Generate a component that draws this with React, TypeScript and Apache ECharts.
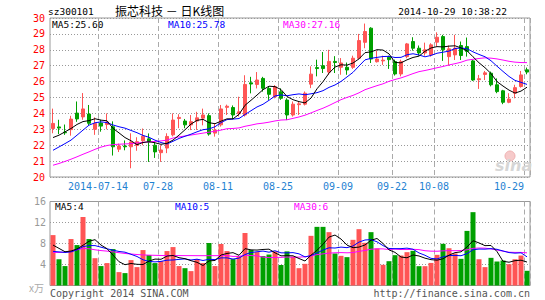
import React, { useEffect, useRef } from "react";
import * as echarts from "echarts";

const dates = ["07-02","07-03","07-04","07-07","07-08","07-09","07-10","07-11","07-14","07-15","07-16","07-17","07-18","07-21","07-22","07-23","07-24","07-25","07-28","07-29","07-30","07-31","08-01","08-04","08-05","08-06","08-07","08-08","08-11","08-12","08-13","08-14","08-15","08-18","08-19","08-20","08-21","08-22","08-25","08-26","08-27","08-28","08-29","09-01","09-02","09-03","09-04","09-05","09-09","09-10","09-11","09-12","09-15","09-16","09-17","09-18","09-19","09-22","09-23","09-24","09-25","09-26","09-29","09-30","10-08","10-09","10-10","10-13","10-14","10-15","10-16","10-17","10-20","10-21","10-22","10-23","10-24","10-27","10-28","10-29"];

const tickDates = ["07-14","07-28","08-11","08-25","09-09","09-22","10-08","10-29"];
const tickLabels = ["2014-07-14","07-28","08-11","08-25","09-09","09-22","10-08","10-29"];

const opens = [23.05,23.15,22.82,22.98,24.02,23.78,23.96,23.0,23.4,23.3,
  23.16,21.75,21.95,21.9,21.98,22.28,22.4,22.0,21.53,21.82,
  22.65,23.68,23.52,23.28,23.52,23.7,23.86,22.76,23.28,24.38,
  24.37,23.98,23.9,25.92,25.82,26.2,25.57,25.05,25.36,24.84,
  23.9,24.55,24.58,25.84,26.88,27.0,26.6,27.27,26.9,26.9,
  26.9,27.47,28.47,29.36,27.25,27.3,27.53,27.26,26.48,27.57,
  28.52,28.1,27.8,27.68,28.48,28.83,27.57,27.68,28.27,28.2,
  27.3,26.12,26.45,26.53,25.8,25.42,24.7,25.27,25.69,26.74];
const closes = [23.37,23.08,22.78,23.64,23.65,24.28,23.38,23.37,23.2,23.45,
  21.9,21.95,21.9,22.2,22.22,22.57,22.2,21.58,21.7,22.55,
  23.58,23.75,23.28,23.48,23.72,23.9,22.7,22.96,24.28,24.45,
  23.9,24.1,25.82,25.85,26.1,25.58,25.2,25.68,24.95,23.9,
  24.58,24.6,25.27,26.47,26.82,26.82,27.27,27.2,27.17,26.73,
  27.47,28.58,29.15,27.42,27.42,27.35,27.38,26.48,27.26,28.37,
  28.1,27.8,28.0,28.31,28.79,28.0,28.06,28.1,27.64,27.9,
  26.1,26.18,26.55,25.8,25.37,24.7,24.9,25.62,26.42,26.6];
const lows = [22.75,22.7,22.65,22.6,23.47,23.6,23.26,22.65,22.85,23.0,
  21.35,21.57,21.68,20.55,21.65,22.0,20.95,21.2,20.95,21.5,
  22.55,23.07,23.07,22.95,22.96,23.25,22.6,22.54,23.17,23.9,
  23.65,23.8,23.8,25.26,25.57,25.37,24.85,24.95,24.85,23.58,
  23.8,23.9,24.5,25.59,26.33,26.54,26.43,26.54,26.43,26.43,
  26.8,27.4,28.1,27.17,27.2,27.05,26.8,26.38,26.33,27.47,
  27.95,27.63,27.63,27.57,28.2,27.3,27.0,27.36,27.36,27.57,
  26.04,25.54,26.1,25.7,25.27,24.58,24.64,24.95,25.62,26.46];
const highs = [24.3,23.6,23.3,23.85,24.75,25.28,24.53,23.75,23.6,24.0,
  23.5,22.1,22.3,22.75,22.5,23.05,22.74,22.2,22.0,22.75,
  24.0,23.95,23.65,23.9,24.1,24.3,24.0,23.37,24.53,24.55,
  24.5,25.05,26.4,26.3,26.6,26.3,25.68,25.78,25.57,24.95,
  24.75,24.75,25.38,26.96,27.38,27.86,28.0,27.6,27.48,27.2,
  27.63,29.0,29.65,29.42,27.95,27.63,27.63,27.38,27.38,28.43,
  28.79,28.27,28.45,28.41,29.1,28.94,28.27,28.94,28.52,28.77,
  27.36,26.42,26.67,26.63,26.2,25.48,25.27,25.8,26.67,26.88];
const volumes = [9.6,5.0,3.7,8.85,7.7,13.05,8.85,5.2,3.7,4.27,
  6.94,2.55,2.36,4.84,3.5,6.75,5.8,4.27,4.65,6.56,
  7.32,3.7,3.3,2.74,5.03,4.27,8.1,3.7,7.9,6.56,
  5.03,5.6,10.0,6.75,6.37,5.6,5.9,6.5,3.9,6.5,
  5.5,3.3,4.13,9.46,11.17,11.17,10.16,6.1,5.65,5.4,
  8.7,10.73,8.13,10.16,7.05,3.94,4.63,5.78,5.71,6.35,
  6.6,3.68,3.68,4.3,5.84,7.94,7.1,6.1,5.08,10.4,
  13.97,5.0,3.5,5.27,4.57,4.76,4.06,5.0,5.71,2.8];

// moving-average values before a full window exists
const ma5Head = [22.48,22.63,22.84,23.05];
const ma10Head = [21.68,21.89,22.1,22.32,22.63,22.95,23.26,23.41,23.47];
const ma30Head = [20.74,20.85,20.98,21.12,21.27,21.43,21.58,21.74,21.88,21.98,
  22.04,22.06,22.08,22.1,22.14,22.18,22.21,22.24,22.27,22.32,
  22.45,22.52,22.58,22.64,22.7,22.76,22.82,22.88,22.95];
const volMa5Head = [7.7,7.07,6.43,6.56];
const volMa10Head = [6.5,6.4,6.3,6.4,6.8,7.4,7.6,7.6,7.3];
const volMa30Head = [6.3,6.3,6.35,6.5,6.8,7.05,7.0,6.8,6.65,6.55,
  6.4,6.25,6.1,6.0,5.9,5.82,5.78,5.75,5.72,5.7,
  5.7,5.7,5.69,5.69,5.68,5.68,5.68,5.68,5.69];

const priceMaLabels = ["MA5:25.60","MA10:25.78","MA30:27.16"];
const volMaLabels = ["MA5:4","MA10:5","MA30:6"];

const RED = "#ff5555";
const GREEN = "#00a000";
const MONO = '"DejaVu Sans Mono", "Liberation Mono", monospace';

function movingAvg(vals: number[], n: number, head: number[]) {
  return vals.map((_, i) => {
    if (i < n - 1) return head[i];
    let s = 0;
    for (let k = i - n + 1; k <= i; k++) s += vals[k];
    return +(s / n).toFixed(3);
  });
}

export default function App() {
  const ref = useRef<HTMLDivElement>(null);
  useEffect(() => {
    if (!ref.current) return;
    const chart = echarts.init(ref.current, null, { renderer: "svg" });
    const candles = dates.map((_, i) => [opens[i], closes[i], lows[i], highs[i]]);
    const vols = volumes.map((v, i) => ({
      value: v,
      itemStyle: { color: closes[i] >= opens[i] ? RED : GREEN },
    }));
    const isTick = (idx: number) => tickDates.indexOf(dates[idx]) >= 0;
    const lastIdx = dates.length - 1;
    const splitLine = {
      show: true,
      interval: (idx: number) => isTick(idx),
      lineStyle: { color: "#aaaaaa", type: [5, 3], width: 1 },
    };
    const txt = (text: string, x: number, y: number, fill: string, extra: any = {}) => ({
      type: "text",
      x,
      y,
      silent: true,
      z: 100,
      style: { text, fill, font: `10px ${MONO}`, verticalAlign: "middle", textAlign: "left", ...extra },
    });
    const option: any = {
      animation: false,
      backgroundColor: "#ffffff",
      grid: [
        { left: 50, top: 18, width: 480, height: 159, show: true, borderColor: "#999999", borderWidth: 1, outerBoundsMode: "none" },
        { left: 50, top: 201.5, width: 480, height: 84, show: true, borderColor: "#999999", borderWidth: 1, outerBoundsMode: "none" },
      ],
      xAxis: [
        {
          type: "category",
          gridIndex: 0,
          data: dates,
          boundaryGap: true,
          axisLine: { show: false },
          axisTick: { show: false },
          splitLine,
          axisLabel: {
            show: true,
            margin: 4,
            interval: (idx: number) => isTick(idx),
            hideOverlap: false,
            formatter: (v: string, idx: number) => {
              const lab = tickLabels[tickDates.indexOf(v)] || v;
              return idx === lastIdx ? `{r|${lab}}` : `{n|${lab}}`;
            },
            rich: {
              n: { padding: [0, 6, 0, 0], color: "#1f82d2", fontSize: 10, fontFamily: MONO },
              r: { padding: [0, 36, 0, 0], color: "#1f82d2", fontSize: 10, fontFamily: MONO },
            },
          },
        },
        {
          type: "category",
          gridIndex: 1,
          data: dates,
          boundaryGap: true,
          axisLine: { show: false },
          axisTick: { show: false },
          axisLabel: { show: false },
          splitLine,
        },
      ],
      yAxis: [
        {
          type: "value",
          gridIndex: 0,
          min: 20,
          max: 30,
          interval: 1,
          axisLine: { show: false },
          axisTick: { show: false },
          axisLabel: { color: "#ff0000", fontSize: 10, fontFamily: MONO, margin: 5 },
          splitLine: { show: true, lineStyle: { color: "#999999", type: [1, 2], width: 1 } },
        },
        {
          type: "value",
          gridIndex: 1,
          min: 0,
          max: 16,
          interval: 4,
          axisLine: { show: false },
          axisTick: { show: false },
          axisLabel: {
            color: "#999999",
            fontSize: 10,
            fontFamily: MONO,
            margin: 4,
            formatter: (v: number) => (v === 0 ? "" : String(v)),
          },
          splitLine: { show: true, lineStyle: { color: "#999999", type: [1, 2], width: 1 } },
        },
      ],
      series: [
        {
          type: "candlestick",
          xAxisIndex: 0,
          yAxisIndex: 0,
          data: candles,
          barWidth: 4,
          itemStyle: { color: RED, color0: GREEN, borderColor: RED, borderColor0: GREEN, borderWidth: 1 },
        },
        { type: "line", xAxisIndex: 0, yAxisIndex: 0, data: movingAvg(closes, 30, ma30Head), showSymbol: false, lineStyle: { color: "#ff00ff", width: 1 }, silent: true },
        { type: "line", xAxisIndex: 0, yAxisIndex: 0, data: movingAvg(closes, 10, ma10Head), showSymbol: false, lineStyle: { color: "#0000ff", width: 1 }, silent: true },
        { type: "line", xAxisIndex: 0, yAxisIndex: 0, data: movingAvg(closes, 5, ma5Head), showSymbol: false, lineStyle: { color: "#000000", width: 1 }, silent: true },
        { type: "bar", xAxisIndex: 1, yAxisIndex: 1, data: vols, barWidth: 5, silent: true },
        { type: "line", xAxisIndex: 1, yAxisIndex: 1, data: movingAvg(volumes, 30, volMa30Head), showSymbol: false, lineStyle: { color: "#ff00ff", width: 1 }, silent: true },
        { type: "line", xAxisIndex: 1, yAxisIndex: 1, data: movingAvg(volumes, 10, volMa10Head), showSymbol: false, lineStyle: { color: "#0000ff", width: 1 }, silent: true },
        { type: "line", xAxisIndex: 1, yAxisIndex: 1, data: movingAvg(volumes, 5, volMa5Head), showSymbol: false, lineStyle: { color: "#000000", width: 1 }, silent: true },
      ],
      graphic: [
        txt("sz300101", 48, 11, "#000000", { font: `9.5px ${MONO}` }),
        {
          type: "text", x: 115, y: 10, silent: true, z: 100,
          style: { text: "振芯科技 － 日K线图", fill: "#000000", font: '12px "Noto Sans CJK SC"', verticalAlign: "middle" },
        },
        txt("2014-10-29 10:38:22", 507, 11, "#000000", { font: `9.5px ${MONO}` , textAlign: "right" }),
        txt(priceMaLabels[0], 52, 24.5, "#000000", { font: `9.5px ${MONO}` }),
        txt(priceMaLabels[1], 168, 24.5, "#0000ff", { font: `9.5px ${MONO}` }),
        txt(priceMaLabels[2], 283, 24.5, "#ff00ff", { font: `9.5px ${MONO}` }),
        txt(volMaLabels[0], 55, 206.5, "#000000", { font: `9.5px ${MONO}` }),
        txt(volMaLabels[1], 175, 206.5, "#0000ff", { font: `9.5px ${MONO}` }),
        txt(volMaLabels[2], 294, 206.5, "#ff00ff", { font: `9.5px ${MONO}` }),
        {
          type: "text", x: 29, y: 287, silent: true, z: 100,
          style: { text: "x万", fill: "#aaaaaa", font: '10px "Noto Sans CJK SC"', verticalAlign: "middle" },
        },
        txt("Copyright 2014 SINA.COM", 50, 293, "#555555"),
        txt("http://finance.sina.com.cn", 530, 293, "#555555", { textAlign: "right" }),
        {
          type: "circle", silent: true, z: 90,
          shape: { cx: 510, cy: 156, r: 5 },
          style: { fill: "#f6caca", stroke: "#f0b0b0", lineWidth: 1 },
        },
        {
          type: "text", x: 495, y: 165, silent: true, z: 90,
          style: { text: "sina", fill: "#d6d6d6", font: 'italic bold 16px "DejaVu Sans"', verticalAlign: "middle" },
        },
      ],
    };
    chart.setOption(option);
    return () => chart.dispose();
  }, []);
  return (
    <div
      ref={ref}
      style={{ position: "absolute", left: 0, top: 0, width: 545, height: 300, background: "#ffffff" }}
    />
  );
}
